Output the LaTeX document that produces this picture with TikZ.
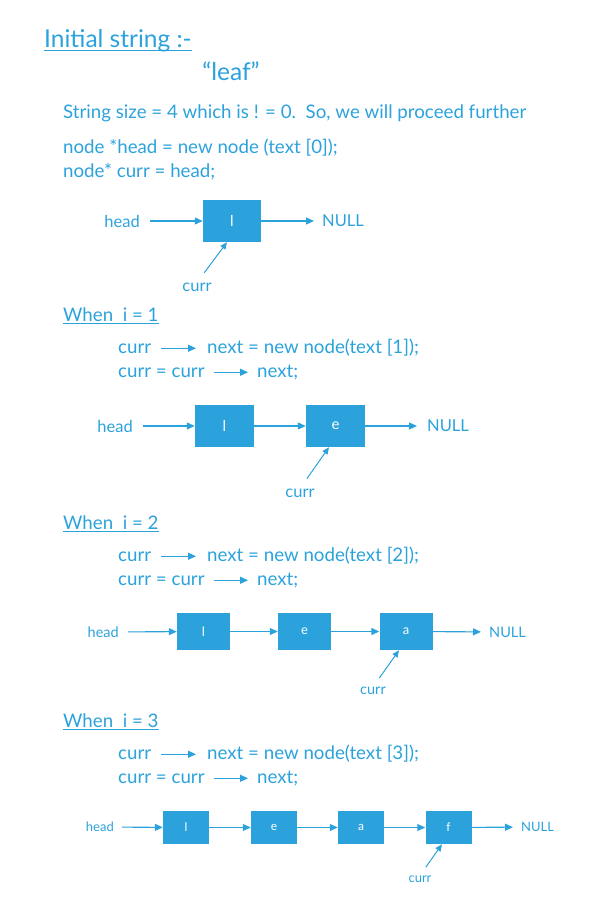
\documentclass[tikz,border=0pt]{standalone}
\usepackage{fontspec}
\setmainfont{Lato}
\usepackage{xcolor}
\usepackage{tikz}
\usetikzlibrary{arrows.meta}
\definecolor{clrB}{RGB}{44,162,220}
\tikzset{
  txt/.style={anchor=base west,inner sep=0pt,text=clrB,font=\fontsize{18.7}{22}\selectfont},
  heading/.style={txt,font=\fontsize{24.5}{28}\selectfont},
  lbl/.style={inner sep=0pt,text=clrB,font=\fontsize{16.5}{19}\selectfont},
  cell/.style={rectangle,fill=clrB,text=white,inner sep=0pt,font=\fontsize{15}{18}\selectfont},
  uline/.style={draw=clrB,line width=1pt},
  arrow/.style={-{Triangle[length=8pt,width=7pt]},line width=1.1pt,draw=clrB},
  ptr/.style={-{Triangle[length=7pt,width=6pt]},line width=1pt,draw=clrB}
}

\begin{document}
\begin{tikzpicture}[x=1pt,y=-1pt]
  \useasboundingbox (0,0) rectangle (595,911);
  % header text
  \node[heading] (title) at (44,47) {Initial string :-};
  \draw[uline] ([yshift=-3pt]title.base west) -- ([yshift=-3pt]title.base east);
  \node[heading,anchor=base] (word) at (231,80) {“leaf”};
  \node[txt] (size) at (63,118) {String size = 4 which is ! = 0.\ \ So, we will proceed further};
  \node[txt] (init1) at (63,153) {node *head = new node (text [0]);};
  \node[txt] (init2) at (63,177) {node* curr = head;};
  % list with one node
  \node[lbl,anchor=east] (head1) at (140,221) {head};
  \node[cell,minimum width=58pt,minimum height=42pt] (c1l) at (232,221) {l};
  \node[lbl,anchor=west] (null1) at (322,221) {NULL};
  \node[lbl] (curr1) at (197,287) {curr};
  \draw[arrow,shorten <=10pt] (head1) -- (c1l);
  \draw[arrow,shorten >=8pt] (c1l) -- (null1);
  \draw[ptr,shorten <=12pt] (curr1.north) -- ([xshift=-5pt]c1l.south);
  % i = 1
  \node[txt] (when1) at (63,321) {When~ i = 1};
  \draw[uline] ([yshift=-2.5pt]when1.base west) -- ([yshift=-2.5pt]when1.base east);
  \node[txt] (s1a) at (118,353) {curr};
  \node[txt] (s1b) at (207,353) {next = new node(text [1]);};
  \node[txt] (s1c) at (118,377) {curr = curr};
  \node[txt] (s1d) at (257,377) {next;};
  \draw[arrow,shorten <=10pt,shorten >=11pt] (s1a.east) -- (s1a.east -| s1b.west);
  \draw[arrow,shorten <=9pt,shorten >=9pt] (s1c.east) -- (s1c.east -| s1d.west);
  \node[lbl,anchor=east] (head2) at (133,426) {head};
  \node[cell,minimum width=59pt,minimum height=42pt] (c2l) at (224.5,426) {l};
  \node[cell,minimum width=59pt,minimum height=42pt] (c2e) at (335.5,426) {e};
  \node[lbl,anchor=west] (null2) at (427,426) {NULL};
  \node[lbl] (curr2) at (300,493) {curr};
  \draw[arrow,shorten <=10pt] (head2) -- (c2l);
  \draw[arrow] (c2l) -- (c2e);
  \draw[arrow,shorten >=10pt] (c2e) -- (null2);
  \draw[ptr,shorten <=12pt] (curr2.north) -- ([xshift=-6.5pt]c2e.south);
  % i = 2
  \node[txt] (when2) at (63,529) {When~ i = 2};
  \draw[uline] ([yshift=-2.5pt]when2.base west) -- ([yshift=-2.5pt]when2.base east);
  \node[txt] (s2a) at (118,561) {curr};
  \node[txt] (s2b) at (207,561) {next = new node(text [2]);};
  \node[txt] (s2c) at (118,585) {curr = curr};
  \node[txt] (s2d) at (257,585) {next;};
  \draw[arrow,shorten <=10pt,shorten >=11pt] (s2a.east) -- (s2a.east -| s2b.west);
  \draw[arrow,shorten <=9pt,shorten >=9pt] (s2c.east) -- (s2c.east -| s2d.west);
  \node[lbl,anchor=east,font=\fontsize{14.5}{17}\selectfont] (head3) at (119,632) {head};
  \node[cell,minimum width=53pt,minimum height=37pt,font=\fontsize{13}{16}\selectfont] (c3l) at (203.5,631.5) {l};
  \node[cell,minimum width=53pt,minimum height=37pt,font=\fontsize{13}{16}\selectfont] (c3e) at (304.5,631.5) {e};
  \node[cell,minimum width=53pt,minimum height=37pt,font=\fontsize{13}{16}\selectfont] (c3a) at (406,631.5) {a};
  \node[lbl,anchor=west,font=\fontsize{14.5}{17}\selectfont] (null3) at (489,632) {NULL};
  \node[lbl,font=\fontsize{14.5}{17}\selectfont] (curr3) at (373,691) {curr};
  \draw[arrow,shorten <=9pt] (head3) -- (c3l);
  \draw[arrow] (c3l) -- (c3e);
  \draw[arrow] (c3e) -- (c3a);
  \draw[arrow,shorten >=8pt] (c3a) -- (null3);
  \draw[ptr,shorten <=11pt] (curr3.north) -- ([xshift=-7pt]c3a.south);
  % i = 3
  \node[txt] (when3) at (63,727) {When~ i = 3};
  \draw[uline] ([yshift=-2.5pt]when3.base west) -- ([yshift=-2.5pt]when3.base east);
  \node[txt] (s3a) at (118,759) {curr};
  \node[txt] (s3b) at (207,759) {next = new node(text [3]);};
  \node[txt] (s3c) at (118,783) {curr = curr};
  \node[txt] (s3d) at (257,783) {next;};
  \draw[arrow,shorten <=10pt,shorten >=11pt] (s3a.east) -- (s3a.east -| s3b.west);
  \draw[arrow,shorten <=9pt,shorten >=9pt] (s3c.east) -- (s3c.east -| s3d.west);
  \node[lbl,anchor=east,font=\fontsize{13}{15}\selectfont] (head4) at (114,827) {head};
  \node[cell,minimum width=46pt,minimum height=33pt,font=\fontsize{12}{14}\selectfont] (c4l) at (186,827.5) {l};
  \node[cell,minimum width=46pt,minimum height=33pt,font=\fontsize{12}{14}\selectfont] (c4e) at (274,827.5) {e};
  \node[cell,minimum width=46pt,minimum height=33pt,font=\fontsize{12}{14}\selectfont] (c4a) at (361,827.5) {a};
  \node[cell,minimum width=46pt,minimum height=33pt,font=\fontsize{12}{14}\selectfont] (c4f) at (448.5,827.5) {f};
  \node[lbl,anchor=west,font=\fontsize{13}{15}\selectfont] (null4) at (521,827) {NULL};
  \node[lbl,font=\fontsize{13}{15}\selectfont] (curr4) at (420,879) {curr};
  \draw[arrow,shorten <=8pt] (head4) -- (c4l);
  \draw[arrow] (c4l) -- (c4e);
  \draw[arrow] (c4e) -- (c4a);
  \draw[arrow] (c4a) -- (c4f);
  \draw[arrow,shorten >=8pt] (c4f) -- (null4);
  \draw[ptr,shorten <=10pt] (curr4.north) -- ([xshift=-6.5pt]c4f.south);
\end{tikzpicture}
\end{document}
